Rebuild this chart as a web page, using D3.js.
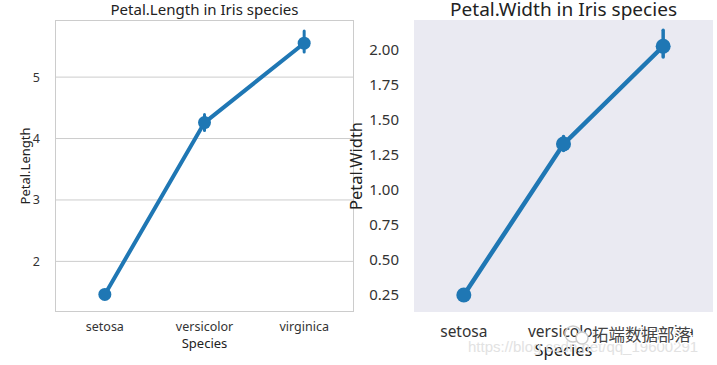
<!DOCTYPE html>
<html><head><meta charset="utf-8">
<script src="https://cdn.jsdelivr.net/npm/d3@7"></script>
<style>
html,body{margin:0;padding:0;background:#fff;}
svg{display:block;font-family:"Noto Sans","Open Sans",sans-serif;}
</style></head>
<body>
<svg id="c" width="717" height="365"></svg>
<script>
const species = ["setosa","versicolor","virginica"];
const petalLengthMean = [1.462, 4.260, 5.552];
const petalLengthLo = [1.42, 4.13, 5.41];
const petalLengthHi = [1.51, 4.39, 5.75];
const petalWidthMean = [0.246, 1.326, 2.026];
const petalWidthLo = [0.22, 1.28, 1.95];
const petalWidthHi = [0.27, 1.38, 2.14];
const lengthTicks = [2, 3, 4, 5];
const widthTicks = [0.25, 0.50, 0.75, 1.00, 1.25, 1.50, 1.75, 2.00];

const svg = d3.select("#c");
const blue = "#1f77b4";
const FONT = "Noto Sans, Open Sans, sans-serif";

function panel(opt){
  const g = svg.append("g");
  const x = d3.scaleBand().domain(species).range([opt.x0, opt.x1]).padding(0);
  const y = d3.scaleLinear().domain(opt.domain).range([opt.y1, opt.y0]);
  if (opt.bg) g.append("rect").attr("x",opt.x0).attr("y",opt.y0).attr("width",opt.x1-opt.x0).attr("height",opt.y1-opt.y0).attr("fill",opt.bg);
  if (opt.grid) {
    g.selectAll(".gl").data(opt.ticks).join("line")
      .attr("x1",opt.x0).attr("x2",opt.x1).attr("y1",d=>y(d)).attr("y2",d=>y(d))
      .attr("stroke","#cccccc").attr("stroke-width",1);
  }
  if (opt.frame) g.append("rect").attr("x",opt.x0+0.5).attr("y",opt.y0+0.5).attr("width",opt.x1-opt.x0-1).attr("height",opt.y1-opt.y0-1).attr("fill","none").attr("stroke","#cccccc");
  // y axis
  const ya = g.append("g").attr("transform",`translate(${opt.x0 - opt.tickGap},0)`)
    .call(d3.axisLeft(y).tickValues(opt.ticks).tickFormat(opt.fmt).tickSize(0));
  ya.select(".domain").remove();
  ya.attr("font-family",FONT).attr("font-size",opt.tickSize);
  ya.selectAll("text").attr("fill","#333");
  // x axis
  const xa = g.append("g").attr("transform",`translate(0,${opt.y1 + opt.xGap})`)
    .call(d3.axisBottom(x).tickSize(0));
  xa.select(".domain").remove();
  xa.attr("font-family",FONT).attr("font-size",opt.xTickSize);
  xa.selectAll("text").attr("fill","#333");
  // line
  const pts = species.map((s,i)=>({s, m:opt.mean[i], lo:opt.lo[i], hi:opt.hi[i]}));
  g.append("path").datum(pts)
    .attr("d", d3.line().x(d=>x(d.s)+x.bandwidth()/2).y(d=>y(d.m)))
    .attr("fill","none").attr("stroke",blue).attr("stroke-width",opt.lw).attr("stroke-linecap","round");
  g.selectAll(".eb").data(pts).join("line")
    .attr("x1",d=>x(d.s)+x.bandwidth()/2).attr("x2",d=>x(d.s)+x.bandwidth()/2)
    .attr("y1",d=>y(d.lo)).attr("y2",d=>y(d.hi))
    .attr("stroke",blue).attr("stroke-width",opt.ebw).attr("stroke-linecap","round");
  g.selectAll(".pt").data(pts).join("circle")
    .attr("cx",d=>x(d.s)+x.bandwidth()/2).attr("cy",d=>y(d.m)).attr("r",opt.r).attr("fill",blue);
  // titles
  g.append("text").attr("x",(opt.x0+opt.x1)/2).attr("y",opt.titleY).attr("text-anchor","middle")
    .attr("font-size",opt.titleSize).attr("fill","#222").attr("textLength",opt.titleLen).attr("lengthAdjust","spacingAndGlyphs").text(opt.title);
  g.append("text").attr("transform",`translate(${opt.ylabX},${(opt.y0+opt.y1)/2}) rotate(-90)`)
    .attr("text-anchor","middle").attr("font-size",opt.labSize).attr("fill","#222").text(opt.ylab);
  g.append("text").attr("x",(opt.x0+opt.x1)/2).attr("y",opt.xlabY).attr("text-anchor","middle")
    .attr("font-size",opt.labSize).attr("fill","#222").text("Species");
}

panel({x0:55,x1:354,y0:20,y1:312,domain:[1.176,5.93],ticks:lengthTicks,fmt:d3.format("d"),
  mean:petalLengthMean,lo:petalLengthLo,hi:petalLengthHi,grid:true,frame:true,
  tickGap:12,tickSize:12.5,xTickSize:12.5,xGap:7.5,lw:4,ebw:3,r:6.5,
  title:"Petal.Length in Iris species",titleY:15,titleSize:14.5,titleLen:188,ylab:"Petal.Length",ylabX:30,
  xlabY:348,labSize:13});

panel({x0:414,x1:713,y0:20,y1:312,domain:[0.124,2.214],ticks:widthTicks,fmt:d3.format(".2f"),
  mean:petalWidthMean,lo:petalWidthLo,hi:petalWidthHi,grid:false,frame:false,bg:"#eaeaf2",
  tickGap:12,tickSize:15,xTickSize:15.5,xGap:10.5,lw:4.5,ebw:3.5,r:7.5,
  title:"Petal.Width in Iris species",titleY:16,titleSize:17.5,titleLen:227,ylab:"Petal.Width",ylabX:362,
  xlabY:356,labSize:16.5});

// watermark
svg.append("text").attr("x",468).attr("y",352).attr("font-family","Liberation Sans, Arial, sans-serif")
  .attr("font-size",15).attr("fill","#e2e2e2").text("https://blog.csdn.net/qq_19600291");
const wm = svg.append("g");
wm.append("circle").attr("cx",573).attr("cy",334).attr("r",8).attr("fill","none").attr("stroke","#ccc").attr("stroke-width",1.5);
wm.append("circle").attr("cx",582).attr("cy",338).attr("r",6).attr("fill","#fff").attr("stroke","#ccc").attr("stroke-width",1.5);
wm.append("text").attr("x",592).attr("y",341).attr("font-family","Noto Sans CJK SC, sans-serif")
  .attr("font-size",16.5).attr("fill","#444").attr("stroke","#fff").attr("stroke-width",2.5).attr("paint-order","stroke").text("拓端数据部落");
</script>
</body></html>
